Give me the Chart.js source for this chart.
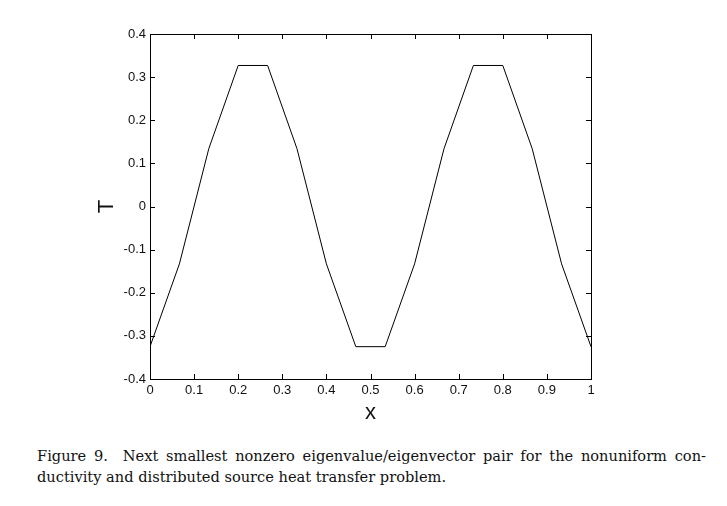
<!DOCTYPE html>
<html>
<head>
<meta charset="utf-8">
<script src="https://cdn.jsdelivr.net/npm/chart.js@4/dist/chart.umd.min.js"></script>
<style>
  body { margin: 0; background: #fff; }
  #wrap { position: relative; width: 727px; height: 506px; overflow: hidden; }
  #myChart { position: absolute; left: 0; top: 0; }
  .cap { position: absolute; left: 37px; font-family: "DejaVu Serif", serif; font-size: 14.6px; line-height: 21px; color: #111; }
  #cap1 { top: 445px; width: 669px; text-align: justify; text-align-last: justify; white-space: nowrap; }
  #cap2 { top: 466px; }
</style>
</head>
<body>
<div id="wrap">
  <canvas id="myChart" width="727" height="430"></canvas>
  <div class="cap" id="cap1">Figure 9.&ensp; Next smallest nonzero eigenvalue/eigenvector pair for the nonuniform con-</div>
  <div class="cap" id="cap2">ductivity and distributed source heat transfer problem.</div>
</div>
<script>
// values
var xValues = [0, 0.0667, 0.1333, 0.2, 0.2667, 0.3333, 0.4, 0.4667, 0.5333, 0.6, 0.6667, 0.7333, 0.8, 0.8667, 0.9333, 1];
var tValues = [-0.325, -0.133, 0.134, 0.327, 0.327, 0.134, -0.133, -0.325, -0.325, -0.133, 0.134, 0.327, 0.327, 0.134, -0.133, -0.325];
var xTicks = ['0', '0.1', '0.2', '0.3', '0.4', '0.5', '0.6', '0.7', '0.8', '0.9', '1'];
var yTicks = ['-0.4', '-0.3', '-0.2', '-0.1', '0', '0.1', '0.2', '0.3', '0.4'];

var points = xValues.map(function (x, i) { return { x: x, y: tValues[i] } });

// matlab style box with inward ticks
var boxTicks = {
    id: 'boxTicks',
    afterDraw: function (chart) {
        var ctx = chart.ctx;
        var a = chart.chartArea;
        var xs = chart.scales.x, ys = chart.scales.y;
        ctx.save();
        ctx.strokeStyle = '#000';
        ctx.lineWidth = 1;
        ctx.strokeRect(a.left + 0.5, a.top + 0.5, a.right - a.left, a.bottom - a.top);
        ctx.beginPath();
        xs.ticks.forEach(function (t) {
            var px = Math.round(xs.getPixelForValue(t.value)) + 0.5;
            ctx.moveTo(px, a.bottom); ctx.lineTo(px, a.bottom - 5);
            ctx.moveTo(px, a.top); ctx.lineTo(px, a.top + 5);
        });
        ys.ticks.forEach(function (t) {
            var py = Math.round(ys.getPixelForValue(t.value)) + 0.5;
            ctx.moveTo(a.left, py); ctx.lineTo(a.left + 5, py);
            ctx.moveTo(a.right, py); ctx.lineTo(a.right - 5, py);
        });
        ctx.stroke();
        ctx.restore();
    }
};

var ctx = document.getElementById('myChart').getContext('2d');

var chart = new Chart(ctx, {
    type: 'line',
    data: {
        datasets: [{
            data: points,
            borderColor: '#000',
            borderWidth: 1,
            pointRadius: 0,
            tension: 0,
            fill: false
        }]
    },
    options: {
        responsive: false,
        animation: false,
        devicePixelRatio: 1,
        layout: { padding: { left: 90, right: 136, top: 34, bottom: 0 } },
        plugins: { legend: { display: false }, tooltip: { enabled: false } },
        scales: {
            x: {
                type: 'linear',
                min: 0,
                max: 1,
                afterFit: function (s) { s.height = 51 },
                afterBuildTicks: function (s) { s.ticks = xTicks.map(function (l) { return { value: parseFloat(l) } }) },
                ticks: {
                    padding: 4,
                    color: '#111',
                    font: { family: 'Liberation Sans', size: 13 },
                    maxRotation: 0,
                    autoSkip: false,
                    callback: function (v, i) { return xTicks[i] }
                },
                grid: { display: false, drawTicks: false },
                border: { display: false },
                title: { display: true, text: 'x', color: '#111', font: { family: 'Liberation Sans', size: 22 }, padding: { top: 0, bottom: 4 } }
            },
            y: {
                min: -0.4,
                max: 0.4,
                afterFit: function (s) { s.width = 60 },
                afterBuildTicks: function (s) { s.ticks = yTicks.map(function (l) { return { value: parseFloat(l) } }) },
                ticks: {
                    padding: 4,
                    color: '#111',
                    font: { family: 'Liberation Sans', size: 13 },
                    autoSkip: false,
                    callback: function (v, i) { return yTicks[i] }
                },
                grid: { display: false, drawTicks: false },
                border: { display: false },
                title: { display: true, text: 'T', color: '#111', font: { family: 'Liberation Sans', size: 22 }, padding: { top: 4, bottom: 0 } }
            }
        }
    },
    plugins: [boxTicks]
});
</script>
</body>
</html>
